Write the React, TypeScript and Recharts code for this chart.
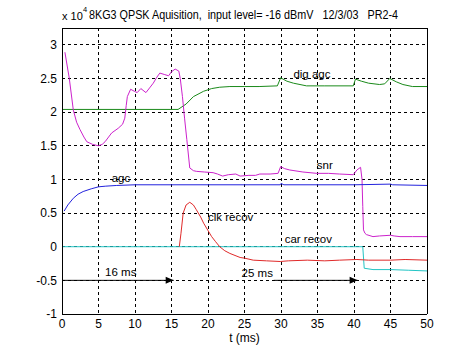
import React from 'react'
import {
  LineChart,
  Line,
  XAxis,
  YAxis,
  CartesianGrid,
  ReferenceLine,
  ReferenceDot
} from 'recharts'

// all values in units of 1e4, time in ms
const xTicks = [0, 5, 10, 15, 20, 25, 30, 35, 40, 45, 50]
const yTicks = [-1, -0.5, 0, 0.5, 1, 1.5, 2, 2.5, 3]

const snrT = [0.4, 1.0, 1.55, 2.0, 2.47, 3.0, 3.4, 4.2, 4.97, 5.5, 5.9, 6.8, 7.7, 8.3, 8.6, 8.8, 8.95, 9.4, 9.9, 10.3, 10.8, 11.5, 12.0, 12.5, 13.0, 13.4, 14.0, 14.6, 15.0, 15.5, 16.0, 16.2, 16.5, 16.8, 17.1, 17.5, 18.0, 18.4, 19.5, 20.7, 21.3, 22.0, 22.8, 23.8, 24.4, 25.6, 26.5, 27.1, 28.5, 29.6, 29.95, 30.5, 31.2, 33.0, 34.9, 36.5, 38.0, 39.9, 40.4, 40.9, 41.1, 41.2, 41.3, 41.5, 41.7, 42.6, 43.5, 45.0, 45.5, 46.3, 48.0, 50.0]
const snrV = [2.89, 2.5, 2.03, 1.85, 1.74, 1.63, 1.56, 1.52, 1.5, 1.52, 1.56, 1.69, 1.76, 1.82, 1.91, 2.1, 2.23, 2.34, 2.31, 2.29, 2.35, 2.29, 2.36, 2.43, 2.52, 2.58, 2.56, 2.54, 2.6, 2.64, 2.61, 2.5, 2.23, 1.9, 1.59, 1.17, 1.13, 1.12, 1.11, 1.1, 1.08, 1.05, 1.07, 1.08, 1.05, 1.06, 1.06, 1.08, 1.08, 1.09, 1.19, 1.16, 1.14, 1.11, 1.09, 1.09, 1.08, 1.07, 1.14, 1.18, 1.0, 0.6, 0.25, 0.2, 0.18, 0.15, 0.16, 0.17, 0.16, 0.15, 0.15, 0.15]

const digAgcT = [0, 15.9, 17, 18, 19.4, 20.5, 21.6, 23, 25, 27, 29.5, 29.95, 30.8, 31.7, 33.5, 36, 39.9, 40.2, 41, 42, 43.5, 44.2, 44.9, 45.8, 46.7, 48, 50]
const digAgcV = [2.04, 2.04, 2.12, 2.23, 2.31, 2.35, 2.37, 2.38, 2.38, 2.38, 2.39, 2.51, 2.46, 2.43, 2.39, 2.39, 2.39, 2.49, 2.46, 2.43, 2.41, 2.42, 2.5, 2.45, 2.41, 2.38, 2.38]

const agcT = [0.3, 0.8, 1.55, 2.2, 2.9, 4, 5, 6, 7.5, 10, 15, 20, 25, 29.9, 30, 30.4, 40, 45, 45.3, 50]
const agcV = [0.53, 0.62, 0.72, 0.78, 0.82, 0.86, 0.89, 0.9, 0.91, 0.92, 0.92, 0.92, 0.92, 0.92, 0.94, 0.92, 0.92, 0.93, 0.92, 0.91]

const clkT = [16.07, 16.3, 16.6, 17, 17.5, 18, 18.4, 19, 19.4, 20, 20.5, 21, 21.6, 22.3, 23, 23.7, 24.4, 25, 26.2, 28, 29.9, 31, 33.6, 36, 38, 40.4, 42, 45, 47, 50]
const clkV = [0, 0.2, 0.5, 0.62, 0.66, 0.62, 0.55, 0.44, 0.35, 0.24, 0.15, 0.08, 0, -0.06, -0.1, -0.13, -0.16, -0.17, -0.2, -0.21, -0.22, -0.21, -0.2, -0.21, -0.2, -0.19, -0.2, -0.2, -0.19, -0.2]

const carT = [0, 41.2, 41.4, 42.6, 45, 47.5, 50]
const carV = [0, 0, -0.32, -0.34, -0.34, -0.35, -0.36]

const arrow16T = [0, 15.3]
const arrow25T = [29, 40.5]
const arrowLevel = -0.5

const zip = (t: number[], v: number[]) => t.map((x, i) => ({ t: x, v: v[i] }))

const snr = zip(snrT, snrV)
const digAgc = zip(digAgcT, digAgcV)
const agc = zip(agcT, agcV)
const clk = zip(clkT, clkV)
const car = zip(carT, carV)
const arrow16 = arrow16T.map((t) => ({ t, v: arrowLevel }))
const arrow25 = arrow25T.map((t) => ({ t, v: arrowLevel }))

const notes = [
  { text: 'dig agc', t: 31.7, v: 2.51 },
  { text: 'snr', t: 34.9, v: 1.16 },
  { text: 'agc', t: 6.8, v: 0.96 },
  { text: 'clk recov', t: 20.0, v: 0.38 },
  { text: 'car recov', t: 30.5, v: 0.06 },
  { text: '16 ms', t: 5.9, v: -0.44 },
  { text: '25 ms', t: 24.6, v: -0.45 }
]

const FONT = '"Liberation Sans", Arial, sans-serif'

function ArrowHead(props: any) {
  const { cx, cy, index, points } = props
  if (index !== points.length - 1) return <g key={`a${index}`} />
  return (
    <path
      key={`a${index}`}
      d={`M${cx - 8},${cy - 3.5} L${cx},${cy} L${cx - 8},${cy + 3.5} Z`}
      fill="#000"
      stroke="none"
    />
  )
}

export default function App() {
  return (
    <div style={{ position: 'absolute', left: 0, top: 0, width: 474, height: 355, background: '#fff' }}>
      <style>{'.recharts-cartesian-grid line, .recharts-reference-line line, .recharts-cartesian-axis-line { shape-rendering: crispEdges; }'}</style>
      <LineChart
        width={474}
        height={355}
        margin={{ top: 28, right: 47, bottom: 16, left: 22 }}
        style={{ fontFamily: FONT }}
      >
        <CartesianGrid stroke="#000" strokeDasharray="3 3" strokeWidth={1} />
        <XAxis
          type="number"
          dataKey="t"
          domain={[0, 50]}
          ticks={xTicks}
          height={25}
          tickSize={0}
          tickMargin={5}
          tick={{ fill: '#000', fontSize: 12 }}
          axisLine={{ stroke: '#000' }}
          tickLine={false}
          allowDataOverflow
          label={{ value: 't (ms)', position: 'bottom', offset: -6, fill: '#000', fontSize: 12 }}
        />
        <YAxis
          type="number"
          dataKey="v"
          domain={[-1, 3.25]}
          ticks={yTicks}
          width={40}
          tickSize={0}
          tickMargin={5}
          tick={{ fill: '#000', fontSize: 12 }}
          axisLine={{ stroke: '#000' }}
          tickLine={false}
          allowDataOverflow
        />
        <ReferenceLine y={3.25} stroke="#000" />
        <ReferenceLine x={50} stroke="#000" />
        <Line data={digAgc} dataKey="v" stroke="#1a8a1a" dot={false} strokeWidth={1} isAnimationActive={false} />
        <Line data={snr} dataKey="v" stroke="#cc22cc" dot={false} strokeWidth={1} isAnimationActive={false} />
        <Line data={agc} dataKey="v" stroke="#2222dd" dot={false} strokeWidth={1} isAnimationActive={false} />
        <Line data={car} dataKey="v" stroke="#22c4c4" dot={false} strokeWidth={1} isAnimationActive={false} />
        <Line data={clk} dataKey="v" stroke="#e02a2a" dot={false} strokeWidth={1} isAnimationActive={false} />
        <Line data={arrow16} dataKey="v" stroke="#000" dot={ArrowHead} strokeWidth={1} isAnimationActive={false} />
        <Line data={arrow25} dataKey="v" stroke="#000" dot={ArrowHead} strokeWidth={1} isAnimationActive={false} />
        {notes.map((n) => (
          <ReferenceDot
            key={n.text}
            x={n.t}
            y={n.v}
            r={1}
            shape={(p: any) => (
              <text x={p.cx} y={p.cy} fontSize={11.5} fill="#000" fontFamily={FONT}>
                {n.text}
              </text>
            )}
          />
        ))}
      </LineChart>
      <svg
        width={474}
        height={28}
        style={{ position: 'absolute', left: 0, top: 0, fontFamily: FONT }}
      >
        <text x={62} y={20} fontSize={11} fill="#000">x 10</text>
        <text x={83} y={12} fontSize={7.5} fill="#000">4</text>
        <text
          x={89}
          y={19}
          fontSize={12}
          fill="#000"
          textLength={309}
          lengthAdjust="spacingAndGlyphs"
          style={{ whiteSpace: 'pre' }}
        >
          {'8KG3 QPSK Aquisition,  input level= -16 dBmV   12/3/03   PR2-4'}
        </text>
      </svg>
    </div>
  )
}
